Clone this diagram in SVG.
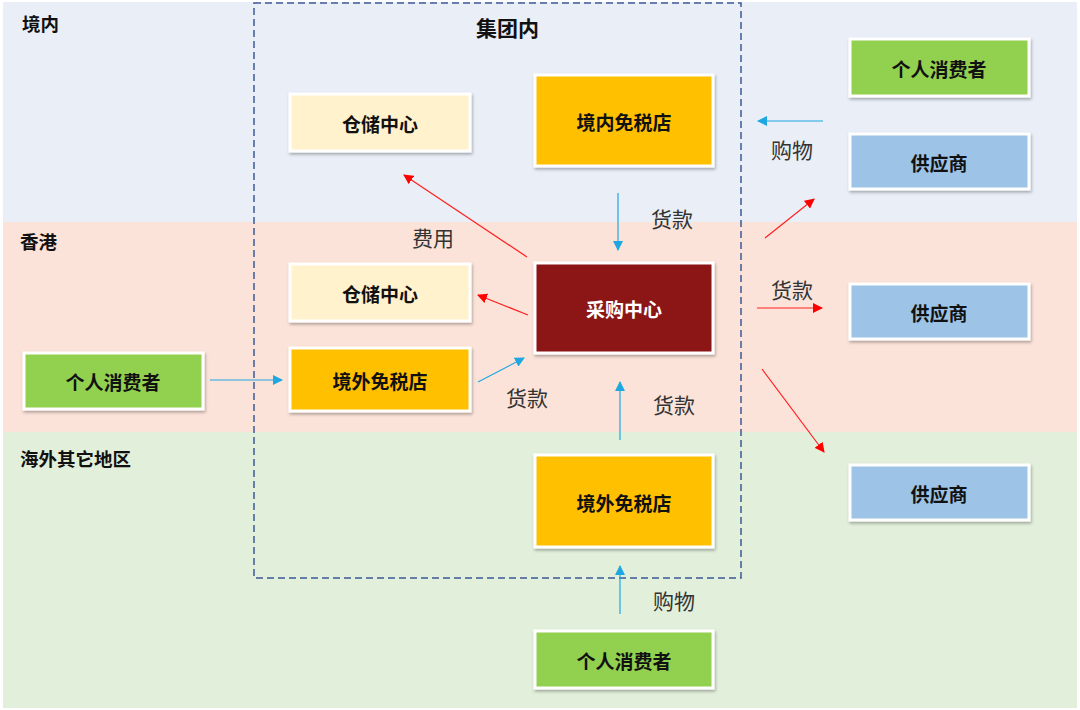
<svg xmlns="http://www.w3.org/2000/svg" width="1080" height="710" viewBox="0 0 1080 710">
<defs>
<filter id="sh" x="-10%" y="-20%" width="125%" height="150%">
<feDropShadow dx="1" dy="2" stdDeviation="1.5" flood-color="#000" flood-opacity="0.3"/>
</filter>
<marker id="ar" viewBox="0 0 10 10" refX="9" refY="5" markerWidth="10" markerHeight="10" markerUnits="userSpaceOnUse" orient="auto">
<path d="M0,0 L10,5 L0,10 z" fill="#ff0000"/>
</marker>
<marker id="ab" viewBox="0 0 10 10" refX="9" refY="5" markerWidth="10" markerHeight="10" markerUnits="userSpaceOnUse" orient="auto">
<path d="M0,0 L10,5 L0,10 z" fill="#1ea7e1"/>
</marker>
</defs>
<style>
.n rect{stroke:#fff;stroke-width:3;filter:url(#sh)}
.t{font-family:"Noto Sans CJK SC","Liberation Sans",sans-serif;font-weight:bold;font-size:19px;fill:#111;text-anchor:middle;dominant-baseline:central}
.r{stroke:#ff2020;stroke-width:1.2;fill:none;marker-end:url(#ar)}
.b{stroke:#1ea7e1;stroke-width:1.2;fill:none;marker-end:url(#ab)}
.l{font-family:"Noto Sans CJK SC","Liberation Sans",sans-serif;font-size:21px;fill:#333;text-anchor:middle;dominant-baseline:central}
.z{font-family:"Noto Sans CJK SC","Liberation Sans",sans-serif;font-weight:bold;font-size:18.5px;fill:#111}
</style>
<rect x="0" y="0" width="1080" height="710" fill="#fff"/>
<rect x="3" y="2" width="1074" height="220" fill="#e9eef7"/>
<rect x="3" y="222" width="1074" height="210" fill="#fbe3d9"/>
<rect x="3" y="432" width="1074" height="276" fill="#e2efdb"/>
<text class="z" x="22" y="31">境内</text>
<text class="z" x="20" y="249">香港</text>
<text class="z" x="20" y="466">海外其它地区</text>
<rect x="254" y="3" width="487" height="575" fill="none" stroke="#3d5a96" stroke-width="1.5" stroke-dasharray="7,4"/>
<text class="z" x="476" y="36" style="font-size:21px">集团内</text>
<g id="wh1" class="n"><rect x="290" y="94" width="180" height="57" fill="#fff2cc"/><text class="t" x="380" y="123">仓储中心</text></g>
<g id="dfs1" class="n"><rect x="535" y="75" width="178" height="91" fill="#ffc000"/><text class="t" x="624" y="121">境内免税店</text></g>
<g id="wh2" class="n"><rect x="290" y="264" width="180" height="57" fill="#fff2cc"/><text class="t" x="380" y="293">仓储中心</text></g>
<g id="pc" class="n"><rect x="535" y="263" width="178" height="90" fill="#8c1515"/><text class="t" x="624" y="308" style="fill:#fff">采购中心</text></g>
<g id="cons1" class="n"><rect x="24" y="353" width="179" height="56" fill="#92d050"/><text class="t" x="113" y="381">个人消费者</text></g>
<g id="dfs2" class="n"><rect x="290" y="348" width="180" height="63" fill="#ffc000"/><text class="t" x="380" y="380">境外免税店</text></g>
<g id="dfs3" class="n"><rect x="535" y="455" width="178" height="92" fill="#ffc000"/><text class="t" x="624" y="502">境外免税店</text></g>
<g id="cons2" class="n"><rect x="535" y="631" width="178" height="57" fill="#92d050"/><text class="t" x="624" y="660">个人消费者</text></g>
<g id="cons3" class="n"><rect x="850" y="39" width="179" height="57" fill="#92d050"/><text class="t" x="939" y="68">个人消费者</text></g>
<g id="sup1" class="n"><rect x="850" y="134" width="179" height="55" fill="#9dc3e6"/><text class="t" x="939" y="162">供应商</text></g>
<g id="sup2" class="n"><rect x="850" y="284" width="179" height="55" fill="#9dc3e6"/><text class="t" x="939" y="312">供应商</text></g>
<g id="sup3" class="n"><rect x="850" y="465" width="179" height="55" fill="#9dc3e6"/><text class="t" x="939" y="493">供应商</text></g>
<g id="connectors">
<line class="r" x1="527" y1="257" x2="404" y2="175"/>
<line class="r" x1="528" y1="315" x2="478" y2="295"/>
<line class="b" x1="618" y1="193" x2="618" y2="250"/>
<line class="b" x1="478" y1="382" x2="524" y2="358"/>
<line class="b" x1="620" y1="440" x2="620" y2="382"/>
<line class="b" x1="823" y1="121" x2="758" y2="121"/>
<line class="r" x1="765" y1="238" x2="814" y2="199"/>
<line class="r" x1="757" y1="308" x2="822" y2="308"/>
<line class="r" x1="762" y1="369" x2="824" y2="452"/>
<line class="b" x1="210" y1="380" x2="282" y2="380"/>
<line class="b" x1="620" y1="614" x2="620" y2="566"/>
</g>
<text class="l" x="433" y="237">费用</text>
<text class="l" x="672" y="218">货款</text>
<text class="l" x="527" y="397">货款</text>
<text class="l" x="674" y="404">货款</text>
<text class="l" x="792" y="149">购物</text>
<text class="l" x="792" y="289">货款</text>
<text class="l" x="674" y="600">购物</text>
</svg>
